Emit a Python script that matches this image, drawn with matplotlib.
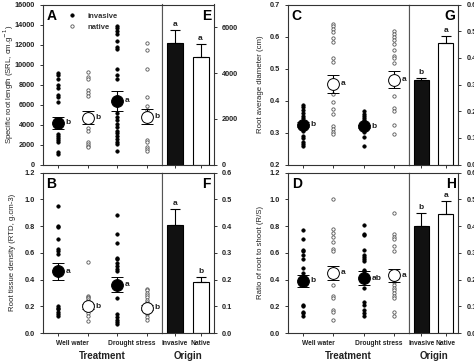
import matplotlib
matplotlib.use("Agg")
import matplotlib.pyplot as plt
import numpy as np

plt.rcParams['font.family'] = ['Liberation Sans', 'DejaVu Sans']

# ---- data ----
treatments = ['Well water', 'Drought stress']
origins = ['Invasive', 'Native']

# A / E : specific root length
srl_inv_ww = [9200, 9000, 8600, 8000, 7700, 7000, 6800, 6300, 3100, 2900, 2700, 2500, 2300, 1300, 1100]
srl_nat_ww = [9300, 8800, 8600, 7500, 7200, 6900, 3700, 3400, 2300, 2100, 1900, 1800]
srl_inv_ds = [13900, 13700, 13400, 13100, 12400, 11800, 11600, 9600, 9000, 8600, 5200, 4800,
              4500, 4100, 3800, 3400, 3200, 2900, 2600, 2300, 2100, 1400]
srl_nat_ds = [12200, 11500, 9600, 6800, 5900, 5500, 2500, 2300, 1800, 1600, 1400]
srl_means = [4200, 4700, 6400, 4800]
srl_errs = [600, 650, 1000, 750]
srl_letters = ['b', 'b', 'a', 'b']
srl_bars = [5300, 4700]
srl_bar_errs = [600, 550]
srl_bar_letters = ['a', 'a']

# B / F : root tissue density
rtd_inv_ww = [0.95, 0.80, 0.79, 0.70, 0.63, 0.61, 0.59, 0.20, 0.19, 0.18, 0.16, 0.14, 0.13]
rtd_nat_ww = [0.53, 0.28, 0.27, 0.26, 0.25, 0.23, 0.17, 0.15, 0.13, 0.09]
rtd_inv_ds = [0.88, 0.74, 0.67, 0.56, 0.55, 0.52, 0.50, 0.48, 0.46, 0.26, 0.14, 0.12, 0.10, 0.08, 0.07]
rtd_nat_ds = [0.33, 0.32, 0.30, 0.285, 0.27, 0.25, 0.235, 0.22, 0.16, 0.14, 0.12, 0.10]
rtd_means = [0.46, 0.20, 0.36, 0.19]
rtd_errs = [0.06, 0.02, 0.055, 0.02]
rtd_letters = ['a', 'b', 'a', 'b']
rtd_bars = [0.405, 0.19]
rtd_bar_errs = [0.06, 0.018]
rtd_bar_letters = ['a', 'b']

# C / G : root average diameter
rad_inv_ww = [0.387, 0.379, 0.371, 0.360, 0.353, 0.346, 0.304, 0.288, 0.282, 0.270, 0.263, 0.257]
rad_nat_ww = [0.640, 0.632, 0.624, 0.615, 0.596, 0.582, 0.533, 0.520, 0.421, 0.395, 0.374, 0.358,
              0.319, 0.311, 0.303, 0.296]
rad_inv_ds = [0.366, 0.358, 0.352, 0.346, 0.340, 0.332, 0.301, 0.285, 0.257]
rad_nat_ds = [0.617, 0.608, 0.600, 0.588, 0.577, 0.558, 0.538, 0.533, 0.517, 0.413, 0.377, 0.366,
              0.324, 0.294]
rad_means = [0.325, 0.452, 0.319, 0.465]
rad_errs = [0.008, 0.027, 0.006, 0.027]
rad_letters = ['b', 'a', 'b', 'a']
rad_bars = [0.318, 0.455]
rad_bar_errs = [0.007, 0.027]
rad_bar_letters = ['b', 'a']

# D / H : root to shoot ratio
rs_inv_ww = [0.77, 0.70, 0.62, 0.61, 0.585, 0.55, 0.485, 0.45, 0.21, 0.20, 0.16, 0.15, 0.13]
rs_nat_ww = [1.00, 0.78, 0.75, 0.72, 0.68, 0.63, 0.615, 0.36, 0.28, 0.26, 0.17, 0.16, 0.10]
rs_inv_ds = [0.805, 0.74, 0.73, 0.62, 0.58, 0.565, 0.55, 0.535, 0.47, 0.46, 0.335, 0.23, 0.21,
             0.17, 0.15, 0.13]
rs_nat_ds = [0.90, 0.74, 0.72, 0.70, 0.65, 0.61, 0.38, 0.36, 0.34, 0.32, 0.30, 0.28, 0.26, 0.16, 0.13]
rs_means = [0.39, 0.45, 0.41, 0.43]
rs_errs = [0.045, 0.05, 0.05, 0.05]
rs_letters = ['b', 'a', 'ab', 'a']
rs_bars = [0.40, 0.445]
rs_bar_errs = [0.048, 0.05]
rs_bar_letters = ['b', 'a']

# ---- figure ----
W, H = 474, 363
fig = plt.figure(figsize=(W / 100, H / 100), dpi=100)
TXT = '#222222'
SP = '#333333'


def rect(x0, x1, y0, y1):
    return [x0 / W, 1 - y1 / H, (x1 - x0) / W, (y1 - y0) / H]


def style(ax):
    for s in ax.spines.values():
        s.set_color(SP)
        s.set_linewidth(0.8)
    ax.tick_params(axis='y', colors=SP, labelcolor=TXT, labelsize=5.3, width=0.7, length=2.5)
    ax.tick_params(axis='x', labelcolor=TXT, labelsize=4.8)
    for lab in ax.get_yticklabels() + ax.get_xticklabels():
        lab.set_fontweight('bold')


def panel(xs, ys, data, means, errs, letters, bars, bar_errs, bar_letters,
          ylim, yticks, ylim2, yticks2, ylabel, tag, tag2, bottom, legend=False):
    x0, xd, x1 = xs
    y0, y1 = ys
    ax = fig.add_axes(rect(x0, xd, y0, y1))
    axb = fig.add_axes(rect(xd, x1, y0, y1))

    pos = [0.5, 1.5, 2.5, 3.5]
    for i, vals in enumerate(data):
        filled = i % 2 == 0
        ax.plot(np.full(len(vals), pos[i]), vals, 'o', ms=2.4,
                mfc='black' if filled else 'white', mec='black' if filled else '#555555',
                mew=0.6, zorder=2,
                label=('invasive' if filled else 'native') if i < 2 else None)
        ax.errorbar(pos[i], means[i], yerr=errs[i], fmt='o', ms=8.5,
                    mfc='black' if filled else 'white', mec='black', mew=0.7,
                    ecolor='black', elinewidth=0.8, capsize=4.5, capthick=0.8, zorder=3)
        ax.annotate(letters[i], (pos[i], means[i]), xytext=(5.5, 0), textcoords='offset points',
                    ha='left', va='center', fontsize=6, fontweight='bold', color=TXT)
    ax.set_xlim(0, 4)
    ax.set_ylim(*ylim)
    ax.set_yticks(yticks)
    ax.set_xticks(pos, minor=True)
    ax.set_xticks([1.0, 3.0])
    ax.tick_params(axis='x', which='major', length=0, pad=5)
    ax.tick_params(axis='x', which='minor', length=2.5, width=0.7, color=SP)
    if bottom:
        ax.set_xticklabels(treatments)
        ax.set_xlabel('Treatment', fontsize=7, fontweight='bold', color=TXT, labelpad=3)
    else:
        ax.set_xticklabels([])
    ax.set_ylabel(ylabel, fontsize=5.6, color=TXT, labelpad=4)
    ax.text(0.03, 0.975, tag, transform=ax.transAxes, ha='left', va='top',
            fontsize=10, fontweight='bold', color='black')
    style(ax)

    bpos = [1, 2]
    axb.bar(bpos, bars, width=0.62, color=['#111111', 'white'], edgecolor='black', linewidth=0.8,
            yerr=[[0, 0], bar_errs], capsize=3.3,
            error_kw=dict(elinewidth=0.8, capthick=0.8, ecolor='black'))
    for b, v, e, l in zip(bpos, bars, bar_errs, bar_letters):
        axb.annotate(l, (b, v + e), xytext=(0, 1.5), textcoords='offset points',
                     ha='center', va='bottom', fontsize=6, fontweight='bold', color=TXT)
    axb.set_xlim(0.5, 2.5)
    axb.set_ylim(*ylim2)
    axb.set_yticks(yticks2)
    axb.yaxis.tick_right()
    axb.set_xticks(bpos)
    if bottom:
        axb.set_xticklabels(origins)
        axb.set_xlabel('Origin', fontsize=7, fontweight='bold', color=TXT, labelpad=3)
    else:
        axb.set_xticklabels([])
    axb.tick_params(axis='x', length=2.5, width=0.7, color=SP, pad=2.5)
    axb.text(0.95, 0.975, tag2, transform=axb.transAxes, ha='right', va='top',
             fontsize=10, fontweight='bold', color='black')
    style(axb)
    axb.spines['left'].set_color('#555555')

    if legend:
        leg = ax.legend(loc='upper left', bbox_to_anchor=(0.21, 0.95), frameon=False,
                        fontsize=5.5, handlelength=1.0, handletextpad=1.6, labelspacing=0.45,
                        borderpad=0, borderaxespad=0, markerscale=1.0)
        for t in leg.get_texts():
            t.set_color('#333333')
            t.set_fontweight('bold')
    return ax, axb


ax_a, _ = panel((43, 162, 213.5), (4.5, 164.5),
                [srl_inv_ww, srl_nat_ww, srl_inv_ds, srl_nat_ds], srl_means, srl_errs, srl_letters,
                srl_bars, srl_bar_errs, srl_bar_letters,
                (0, 16000), np.arange(0, 16001, 2000), (0, 7000), [0, 2000, 4000, 6000],
                'Specific root length (SRL, cm.g$^{-1}$)', 'A', 'E', False, legend=True)
ax_b, _ = panel((43, 162, 213.5), (172.5, 333),
                [rtd_inv_ww, rtd_nat_ww, rtd_inv_ds, rtd_nat_ds], rtd_means, rtd_errs, rtd_letters,
                rtd_bars, rtd_bar_errs, rtd_bar_letters,
                (0, 1.2), np.round(np.arange(0, 1.21, 0.2), 1), (0, 0.6), np.round(np.arange(0, 0.61, 0.1), 1),
                'Root tissue density (RTD, g.cm-3)', 'B', 'F', True)
ax_c, _ = panel((288, 409, 458), (4.5, 164.5),
                [rad_inv_ww, rad_nat_ww, rad_inv_ds, rad_nat_ds], rad_means, rad_errs, rad_letters,
                rad_bars, rad_bar_errs, rad_bar_letters,
                (0.2, 0.7), np.round(np.arange(0.2, 0.71, 0.1), 1), (0, 0.6), np.round(np.arange(0, 0.61, 0.1), 1),
                'Root average diameter (cm)', 'C', 'G', False)
ax_d, _ = panel((288, 409, 458), (172.5, 333),
                [rs_inv_ww, rs_nat_ww, rs_inv_ds, rs_nat_ds], rs_means, rs_errs, rs_letters,
                rs_bars, rs_bar_errs, rs_bar_letters,
                (0, 1.2), np.round(np.arange(0, 1.21, 0.2), 1), (0, 0.6), np.round(np.arange(0, 0.61, 0.1), 1),
                'Ratio of root to shoot (R/S)', 'D', 'H', True)

ax_a.yaxis.set_label_coords(-0.225, 0.5)
ax_b.yaxis.set_label_coords(-0.225, 0.5)
ax_c.yaxis.set_label_coords(-0.195, 0.5)
ax_d.yaxis.set_label_coords(-0.195, 0.5)

fig.savefig('out.png', dpi=100)
